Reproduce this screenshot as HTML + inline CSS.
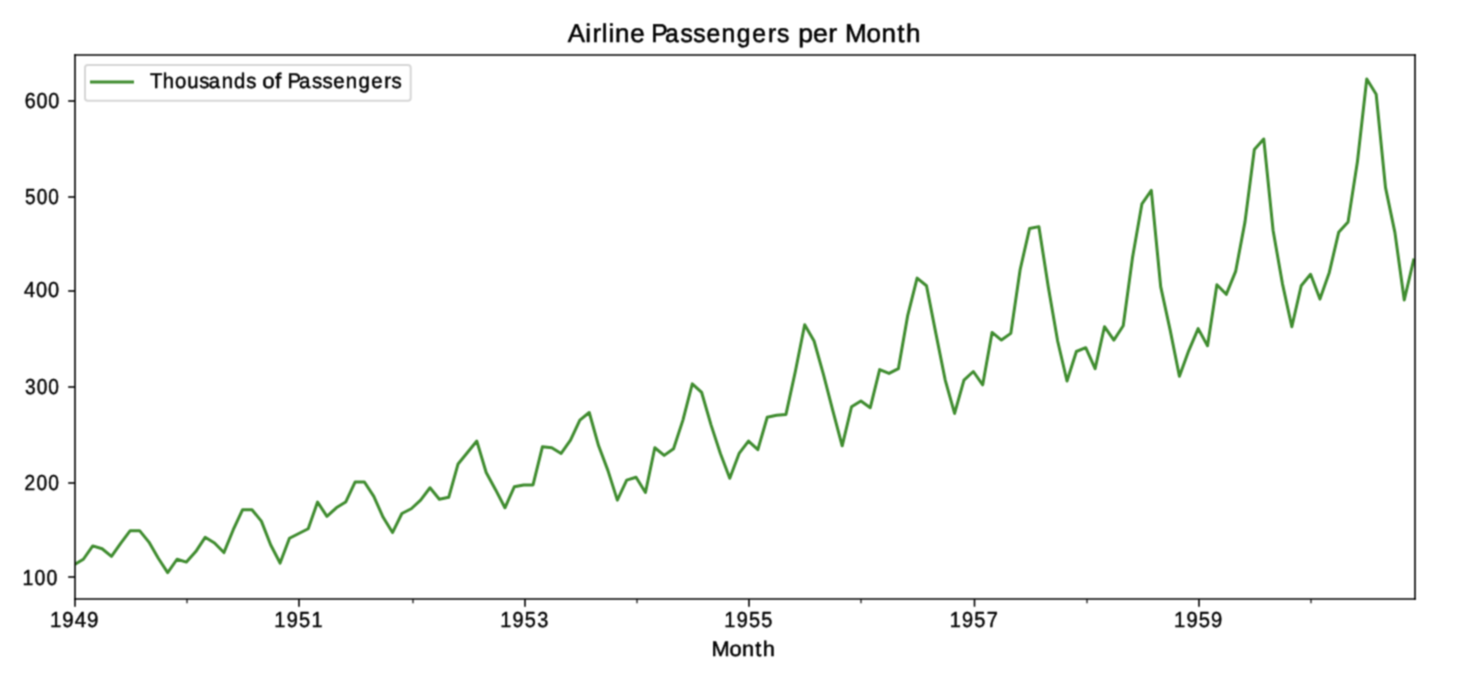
<!DOCTYPE html>
<html lang="en"><head><meta charset="utf-8"><title>Airline Passengers per Month</title>
<style>html,body{margin:0;padding:0;background:#fff;}body{width:1476px;height:686px;overflow:hidden;font-family:"Liberation Sans",sans-serif;}svg{display:block;text-rendering:geometricPrecision;}text{font-family:"Liberation Sans",sans-serif;text-rendering:geometricPrecision;}</style>
</head><body>
<svg width="1476" height="686" viewBox="0 0 1476 686">
<rect x="0" y="0" width="1476" height="686" fill="#ffffff"/>
<filter id="soft" x="0" y="0" width="1476" height="686" filterUnits="userSpaceOnUse" color-interpolation-filters="sRGB"><feConvolveMatrix order="3" kernelMatrix="0.0529 0.1242 0.0529 0.1242 0.2916 0.1242 0.0529 0.1242 0.0529" divisor="1" edgeMode="duplicate" preserveAlpha="true"/></filter>
<g filter="url(#soft)">
<rect x="-5" y="-5" width="1486" height="696" fill="#ffffff"/>
<defs><clipPath id="ax"><rect x="75.0" y="55.0" width="1340.0" height="544.0"/></clipPath></defs>
<g clip-path="url(#ax)"><polyline points="74.00,564.96 83.37,559.25 92.74,545.90 102.10,548.76 111.47,556.39 120.84,543.04 130.21,530.66 139.58,530.66 148.94,542.09 158.31,558.29 167.68,572.59 177.05,559.25 186.42,562.11 195.78,551.62 205.15,537.33 214.52,543.04 223.89,552.57 233.26,529.70 242.62,509.69 251.99,509.69 261.36,521.13 270.73,544.95 280.10,563.06 289.46,538.28 298.83,533.51 308.20,528.75 317.57,502.07 326.94,516.36 336.30,507.78 345.67,502.07 355.04,482.05 364.41,482.05 373.78,496.35 383.14,517.31 392.51,532.56 401.88,513.50 411.25,508.74 420.62,500.16 429.98,487.77 439.35,499.21 448.72,497.30 458.09,463.95 467.46,452.51 476.82,441.07 486.19,472.52 495.56,489.68 504.93,507.78 514.30,486.82 523.66,484.91 533.03,484.91 542.40,446.79 551.77,447.75 561.14,453.46 570.50,440.12 579.87,420.11 589.24,412.48 598.61,445.84 607.98,470.62 617.34,500.16 626.71,480.15 636.08,477.29 645.45,492.54 654.82,447.75 664.18,455.37 673.55,448.70 682.92,420.11 692.29,383.89 701.66,392.47 711.02,424.87 720.39,453.46 729.76,478.24 739.13,453.46 748.50,441.07 757.86,449.65 767.23,417.25 776.60,415.34 785.97,414.39 795.34,371.50 804.70,324.81 814.07,341.01 823.44,374.36 832.81,410.58 842.18,445.84 851.54,406.77 860.91,401.05 870.28,407.72 879.65,369.60 889.02,373.41 898.38,368.65 907.75,315.28 917.12,278.11 926.49,285.74 935.86,333.38 945.22,380.08 954.59,413.44 963.96,380.08 973.33,371.50 982.70,384.85 992.06,332.43 1001.43,340.06 1010.80,333.38 1020.17,269.53 1029.54,228.56 1038.90,226.65 1048.27,286.69 1057.64,341.01 1067.01,381.03 1076.38,351.49 1085.74,347.68 1095.11,368.65 1104.48,326.71 1113.85,340.06 1123.22,325.76 1132.58,257.14 1141.95,203.78 1151.32,190.44 1160.69,286.69 1170.06,329.57 1179.42,376.27 1188.79,350.54 1198.16,328.62 1207.53,345.77 1216.90,284.78 1226.26,294.31 1235.63,271.44 1245.00,221.88 1254.37,149.46 1263.74,138.97 1273.10,230.46 1282.47,283.83 1291.84,326.71 1301.21,285.74 1310.58,274.30 1319.94,299.08 1329.31,272.39 1338.68,232.37 1348.05,221.88 1357.42,161.84 1366.78,78.93 1376.15,94.18 1385.52,187.58 1394.89,232.37 1404.26,300.03 1413.62,260.00" fill="none" stroke="#3f8c2f" stroke-width="3" stroke-linejoin="round" stroke-linecap="square"/></g>
<line x1="68.2" y1="577" x2="75.0" y2="577" stroke="#000000" stroke-width="1.6"/>
<line x1="68.2" y1="483" x2="75.0" y2="483" stroke="#000000" stroke-width="1.6"/>
<line x1="68.2" y1="387" x2="75.0" y2="387" stroke="#000000" stroke-width="1.6"/>
<line x1="68.2" y1="291" x2="75.0" y2="291" stroke="#000000" stroke-width="1.6"/>
<line x1="68.2" y1="197" x2="75.0" y2="197" stroke="#000000" stroke-width="1.6"/>
<line x1="68.2" y1="101" x2="75.0" y2="101" stroke="#000000" stroke-width="1.6"/>
<line x1="75" y1="599.0" x2="75" y2="606.7" stroke="#000000" stroke-width="1.6"/>
<line x1="187" y1="599.0" x2="187" y2="603.3" stroke="#000000" stroke-width="1.2"/>
<line x1="299" y1="599.0" x2="299" y2="606.7" stroke="#000000" stroke-width="1.6"/>
<line x1="413" y1="599.0" x2="413" y2="603.3" stroke="#000000" stroke-width="1.2"/>
<line x1="525" y1="599.0" x2="525" y2="606.7" stroke="#000000" stroke-width="1.6"/>
<line x1="637" y1="599.0" x2="637" y2="603.3" stroke="#000000" stroke-width="1.2"/>
<line x1="749" y1="599.0" x2="749" y2="606.7" stroke="#000000" stroke-width="1.6"/>
<line x1="861" y1="599.0" x2="861" y2="603.3" stroke="#000000" stroke-width="1.2"/>
<line x1="974.5" y1="599.0" x2="974.5" y2="606.7" stroke="#000000" stroke-width="1.6"/>
<line x1="1087" y1="599.0" x2="1087" y2="603.3" stroke="#000000" stroke-width="1.2"/>
<line x1="1199" y1="599.0" x2="1199" y2="606.7" stroke="#000000" stroke-width="1.6"/>
<line x1="1311" y1="599.0" x2="1311" y2="603.3" stroke="#000000" stroke-width="1.2"/>
<line x1="75.0" y1="55.0" x2="75.0" y2="599.0" stroke="#000000" stroke-width="1.6" stroke-linecap="square"/>
<line x1="1415.0" y1="55.0" x2="1415.0" y2="599.0" stroke="#000000" stroke-width="1.6" stroke-linecap="square"/>
<line x1="75.0" y1="599.0" x2="1415.0" y2="599.0" stroke="#000000" stroke-width="1.6" stroke-linecap="square"/>
<line x1="75.0" y1="55.0" x2="1415.0" y2="55.0" stroke="#000000" stroke-width="1.6" stroke-linecap="square"/>
<text transform="scale(1.0116,1)" x="561.34 578.49 585.68 594.87 601.48 608.07 622.94" y="41.5" font-size="25.6" fill="#000000" stroke="#000000" stroke-width="0.55" stroke-linejoin="round">Airline</text>
<text transform="scale(0.9652,1)" x="674.72 689.01 705.16 718.33 731.85 747.62 763.44 779.46 795.74 805.06" y="41.5" font-size="25.6" fill="#000000" stroke="#000000" stroke-width="0.55" stroke-linejoin="round">Passengers</text>
<text transform="scale(1.0410,1)" x="766.83 780.88 795.72" y="41.5" font-size="25.6" fill="#000000" stroke="#000000" stroke-width="0.55" stroke-linejoin="round">per</text>
<text transform="scale(1.0160,1)" x="831.81 852.81 867.54 883.19 891.79" y="41.5" font-size="25.6" fill="#000000" stroke="#000000" stroke-width="0.55" stroke-linejoin="round">Month</text>
<text transform="scale(0.9591,1)" x="156.47 169.74 182.46 195.11 207.70 217.78 231.32 244.09 256.74" y="87.7" font-size="21.1" fill="#000000" stroke="#000000" stroke-width="0.5" stroke-linejoin="round">Thousands</text>
<text transform="scale(1.0617,1)" x="246.93 258.98" y="87.7" font-size="21.1" fill="#000000" stroke="#000000" stroke-width="0.5" stroke-linejoin="round">of</text>
<text transform="scale(0.9679,1)" x="297.15 308.95 322.25 333.10 344.28 357.27 370.29 383.51 396.93 404.56" y="87.7" font-size="21.1" fill="#000000" stroke="#000000" stroke-width="0.5" stroke-linejoin="round">Passengers</text>
<text transform="scale(1.0344,1)" x="687.87 705.20 717.41 730.20 737.38" y="655.9" font-size="21.1" fill="#000000" stroke="#000000" stroke-width="0.5" stroke-linejoin="round">Month</text>
<text transform="scale(0.9098,1)" x="27.25 40.17 53.12" y="107.6" font-size="21.7" fill="#000000" stroke="#000000" stroke-width="0.45" stroke-linejoin="round">600</text>
<text transform="scale(0.8764,1)" x="28.50 41.85 55.18" y="203.6" font-size="21.7" fill="#000000" stroke="#000000" stroke-width="0.45" stroke-linejoin="round">500</text>
<text transform="scale(0.9202,1)" x="26.04 39.04 52.11" y="297.4" font-size="21.7" fill="#000000" stroke="#000000" stroke-width="0.45" stroke-linejoin="round">400</text>
<text transform="scale(0.8806,1)" x="28.41 41.63 54.89" y="393.6" font-size="21.7" fill="#000000" stroke="#000000" stroke-width="0.45" stroke-linejoin="round">300</text>
<text transform="scale(0.8850,1)" x="27.79 41.31 54.57" y="489.5" font-size="21.7" fill="#000000" stroke="#000000" stroke-width="0.45" stroke-linejoin="round">200</text>
<text transform="scale(0.8979,1)" x="25.06 38.41 51.71" y="585.4" font-size="21.7" fill="#000000" stroke="#000000" stroke-width="0.45" stroke-linejoin="round">100</text>
<text transform="scale(0.9438,1)" x="53.00 66.06 79.13 92.07" y="627.1" font-size="21.7" fill="#000000" stroke="#000000" stroke-width="0.45" stroke-linejoin="round">1949</text>
<text transform="scale(0.9192,1)" x="298.32 311.85 325.30 338.75" y="627.1" font-size="21.7" fill="#000000" stroke="#000000" stroke-width="0.45" stroke-linejoin="round">1951</text>
<text transform="scale(0.9166,1)" x="545.70 559.19 572.61 586.11" y="627.1" font-size="21.7" fill="#000000" stroke="#000000" stroke-width="0.45" stroke-linejoin="round">1953</text>
<text transform="scale(0.9156,1)" x="791.01 804.55 818.02 831.52" y="627.1" font-size="21.7" fill="#000000" stroke="#000000" stroke-width="0.45" stroke-linejoin="round">1955</text>
<text transform="scale(0.9221,1)" x="1029.89 1043.33 1056.70 1070.10" y="627.1" font-size="21.7" fill="#000000" stroke="#000000" stroke-width="0.45" stroke-linejoin="round">1957</text>
<text transform="scale(0.9298,1)" x="1262.76 1276.01 1289.19 1302.41" y="627.1" font-size="21.7" fill="#000000" stroke="#000000" stroke-width="0.45" stroke-linejoin="round">1959</text>
<rect x="85.0" y="65.0" width="325.7" height="35.8" rx="2.8" ry="2.8" fill="none" stroke="#d6d6d6" stroke-width="2"/>
<line x1="91.5" y1="82" x2="132.5" y2="82" stroke="#3f8c2f" stroke-width="3" stroke-linecap="square"/>
</g>
</svg></body></html>
